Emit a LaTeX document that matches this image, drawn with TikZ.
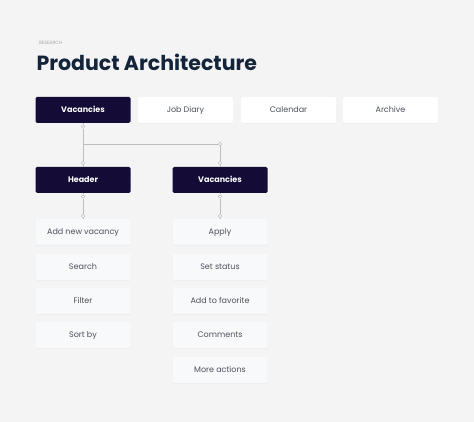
\documentclass[tikz,border=0pt]{standalone}
\usepackage{fontspec}
\setmainfont{Poppins}
\usetikzlibrary{shadows}

\definecolor{pagebg}{HTML}{F4F4F4}
\definecolor{navy}{HTML}{140C36}
\definecolor{titleblue}{HTML}{14243A}
\definecolor{boxtext}{HTML}{4B505A}
\definecolor{linegray}{HTML}{BDBDBD}
\definecolor{leafbg}{HTML}{F8F9FA}

\tikzset{
  box/.style={minimum width=95pt, minimum height=26pt, rounded corners=1.5pt,
    inner sep=0pt, text height=6pt, text depth=1.8pt, font=\fontsize{8}{9}\selectfont},
  darkbox/.style={box, fill=navy, text=white, font=\fontsize{8}{9}\selectfont\bfseries},
  tabbox/.style={box, fill=white, text=boxtext,
    drop shadow={shadow xshift=0pt, shadow yshift=-1pt, opacity=0.06}},
  leafbox/.style={box, fill=leafbg, text=boxtext,
    drop shadow={shadow xshift=0pt, shadow yshift=-1pt, opacity=0.06}},
  pin/.style={circle, draw=linegray, fill=white, line width=0.6pt,
    minimum size=3.6pt, inner sep=0pt},
  link/.style={draw=linegray, line width=0.8pt}
}

\begin{document}
\begin{tikzpicture}[x=1pt, y=-1pt]
  \fill[pagebg] (0,0) rectangle (474,422);
  \useasboundingbox (0,0) rectangle (474,422);

  % heading
  \node (tag) at (35.5,43) [anchor=west, text=gray!70, font=\fontsize{4.7}{5}\selectfont] {RESEARCH};
  \node (title) at (33,62) [anchor=west, text=titleblue, font=\fontsize{20.5}{24}\selectfont\bfseries] {Product Architecture};

  % top row
  \node (vac) at (83,110) [darkbox] {Vacancies};
  \node (diary) at (185.5,110) [tabbox] {Job Diary};
  \node (cal) at (288.5,110) [tabbox] {Calendar};
  \node (arch) at (390.5,110) [tabbox] {Archive};

  % second level
  \node (head) at (83,180) [darkbox] {Header};
  \node (vac2) at (220,180) [darkbox] {Vacancies};

  % header items
  \node (add) at (83,232) [leafbox] {Add new vacancy};
  \node (search) at (83,267) [leafbox] {Search};
  \node (filter) at (83,301) [leafbox] {Filter};
  \node (sort) at (83,335) [leafbox] {Sort by};

  % vacancies items
  \node (apply) at (220,232) [leafbox] {Apply};
  \node (status) at (220,267) [leafbox] {Set status};
  \node (fav) at (220,301) [leafbox] {Add to favorite};
  \node (comm) at (220,335) [leafbox] {Comments};
  \node (more) at (220,370) [leafbox] {More actions};

  % joints
  \node (p1) at (83,126.5) [pin] {};
  \coordinate (j) at (83,144);
  \node (p2) at (83,163) [pin] {};
  \node (p3) at (220,144) [pin] {};
  \node (p4) at (220,163) [pin] {};
  \node (h1) at (83,196.5) [pin] {};
  \node (h2) at (83,216) [pin] {};
  \node (v1) at (220,196.5) [pin] {};
  \node (v2) at (220,216) [pin] {};

  \draw[link] (vac) -- (p1);
  \draw[link] (p1) -- (j);
  \draw[link] (j) -- (p2);
  \draw[link] (p2) -- (head);
  \draw[link] (j) -- (p3);
  \draw[link] (p3) -- (p4);
  \draw[link] (p4) -- (vac2);
  \draw[link] (head) -- (h1);
  \draw[link] (h1) -- (h2);
  \draw[link] (h2) -- (add);
  \draw[link] (vac2) -- (v1);
  \draw[link] (v1) -- (v2);
  \draw[link] (v2) -- (apply);
\end{tikzpicture}
\end{document}
